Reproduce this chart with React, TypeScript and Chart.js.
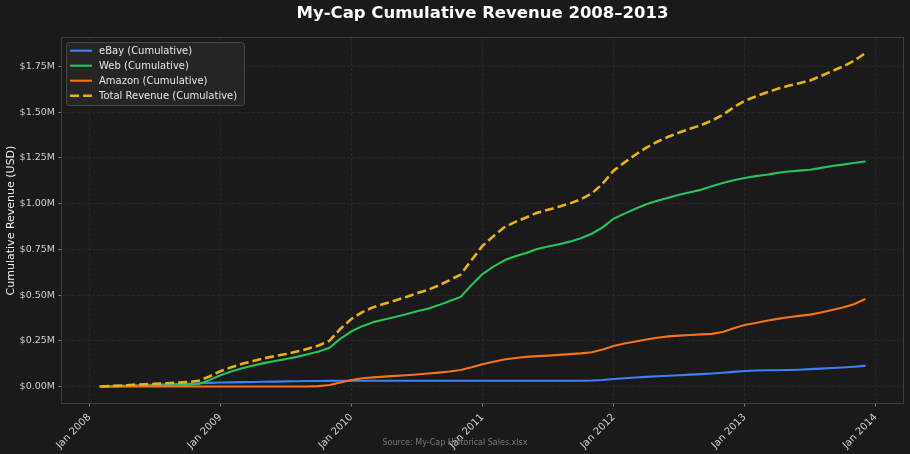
import React, { useEffect, useRef } from "react";
import { Chart, registerables } from "chart.js";

Chart.register(...registerables);

// Month labels (YYYY-MM), Feb 2008 .. Dec 2013
const MONTHS: string[] = [
  "2008-02","2008-03","2008-04","2008-05","2008-06","2008-07","2008-08","2008-09","2008-10","2008-11","2008-12",
  "2009-01","2009-02","2009-03","2009-04","2009-05","2009-06","2009-07","2009-08","2009-09","2009-10","2009-11","2009-12",
  "2010-01","2010-02","2010-03","2010-04","2010-05","2010-06","2010-07","2010-08","2010-09","2010-10","2010-11","2010-12",
  "2011-01","2011-02","2011-03","2011-04","2011-05","2011-06","2011-07","2011-08","2011-09","2011-10","2011-11","2011-12",
  "2012-01","2012-02","2012-03","2012-04","2012-05","2012-06","2012-07","2012-08","2012-09","2012-10","2012-11","2012-12",
  "2013-01","2013-02","2013-03","2013-04","2013-05","2013-06","2013-07","2013-08","2013-09","2013-10","2013-11","2013-12",
];

// Cumulative revenue in millions of USD
const EBAY: number[] = [
  0.000,0.002,0.004,0.006,0.008,0.010,0.012,0.014,0.015,0.018,0.020,
  0.022,0.023,0.024,0.025,0.026,0.027,0.028,0.029,0.030,0.030,0.031,0.032,
  0.032,0.032,0.032,0.032,0.032,0.032,0.032,0.032,0.032,0.032,0.032,0.032,
  0.032,0.032,0.032,0.032,0.032,0.032,0.032,0.032,0.032,0.032,0.033,0.036,
  0.041,0.045,0.049,0.053,0.056,0.059,0.062,0.065,0.068,0.071,0.075,0.080,
  0.085,0.088,0.089,0.089,0.090,0.092,0.095,0.098,0.101,0.104,0.108,0.113,
];

const WEB: number[] = [
  0.000,0.001,0.002,0.003,0.004,0.005,0.006,0.007,0.009,0.014,0.035,
  0.062,0.082,0.100,0.115,0.128,0.140,0.150,0.162,0.176,0.192,0.212,0.262,
  0.302,0.330,0.352,0.366,0.380,0.395,0.412,0.425,0.445,0.468,0.490,0.555,
  0.615,0.655,0.690,0.712,0.730,0.752,0.765,0.778,0.792,0.810,0.835,0.870,
  0.917,0.945,0.972,0.996,1.015,1.032,1.048,1.062,1.075,1.095,1.112,1.128,
  1.140,1.150,1.158,1.168,1.175,1.180,1.185,1.195,1.205,1.213,1.222,1.230,
];

const AMAZON: number[] = [
  0.000,0.000,0.000,0.000,0.000,0.000,0.000,0.000,0.000,0.000,0.000,
  0.000,0.000,0.000,0.000,0.000,0.000,0.000,0.000,0.000,0.002,0.008,0.022,
  0.036,0.045,0.050,0.054,0.058,0.062,0.066,0.071,0.076,0.082,0.090,0.105,
  0.122,0.135,0.148,0.156,0.162,0.166,0.169,0.173,0.177,0.181,0.187,0.203,
  0.222,0.235,0.246,0.257,0.267,0.274,0.278,0.282,0.285,0.288,0.298,0.318,
  0.336,0.347,0.360,0.370,0.379,0.386,0.393,0.405,0.418,0.432,0.450,0.477,
];

const TOTAL: number[] = [
  0.000,0.003,0.006,0.009,0.012,0.015,0.018,0.021,0.024,0.032,0.055,
  0.084,0.105,0.124,0.140,0.154,0.167,0.178,0.191,0.206,0.224,0.251,0.316,
  0.370,0.407,0.434,0.452,0.470,0.489,0.510,0.528,0.553,0.582,0.612,0.692,
  0.769,0.822,0.870,0.900,0.924,0.950,0.966,0.983,1.001,1.023,1.055,1.109,
  1.180,1.225,1.267,1.306,1.338,1.365,1.388,1.409,1.428,1.454,1.485,1.526,
  1.561,1.585,1.607,1.627,1.644,1.658,1.673,1.698,1.724,1.749,1.780,1.820,
];

const SERIES_NAMES = ["eBay (Cumulative)", "Web (Cumulative)", "Amazon (Cumulative)", "Total Revenue (Cumulative)"];
const SERIES_COLORS = ["#3b82f6", "#22c55e", "#f97316", "#eab308"];

const Y_TICKS: number[] = [0, 0.25, 0.5, 0.75, 1.0, 1.25, 1.5, 1.75];
const X_TICK_LABELS: string[] = ["Jan 2008", "Jan 2009", "Jan 2010", "Jan 2011", "Jan 2012", "Jan 2013", "Jan 2014"];

const TITLE = "My-Cap Cumulative Revenue 2008\u20132013";
const Y_TITLE = "Cumulative Revenue (USD)";
const SOURCE = "Source: My-Cap Historical Sales.xlsx";

const monthIndex = (s: string) => {
  const [y, m] = s.split("-").map(Number);
  return (y - 2008) * 12 + (m - 1);
};
const tickIndex = (label: string) => {
  const y = Number(label.split(" ")[1]);
  return (y - 2008) * 12;
};

const FONT = "'DejaVu Sans', sans-serif";
const BG = "#1a1a1a";

const decorPlugin = {
  id: "decor",
  beforeDraw(chart: any) {
    const { ctx, width, height } = chart;
    ctx.save();
    ctx.fillStyle = BG;
    ctx.fillRect(0, 0, width, height);
    ctx.restore();
  },
  afterDraw(chart: any) {
    const { ctx, chartArea } = chart;
    const { left, right, top, bottom } = chartArea;
    ctx.save();
    // frame
    ctx.strokeStyle = "#3f3f3f";
    ctx.lineWidth = 1;
    ctx.strokeRect(left - 0.5, top - 0.5, right - left + 1, bottom - top + 1);
    // title
    ctx.fillStyle = "#ffffff";
    ctx.font = `bold 16.5px ${FONT}`;
    ctx.textAlign = "center";
    ctx.textBaseline = "middle";
    ctx.fillText(TITLE, (left + right) / 2, 14);
    // source
    ctx.fillStyle = "#7a7a7a";
    ctx.font = `8px ${FONT}`;
    ctx.fillText(SOURCE, chart.width / 2, 443);
    // legend
    const lx = 66, ly = 42, lw = 178, lh = 63;
    ctx.beginPath();
    ctx.roundRect(lx + 0.5, ly + 0.5, lw, lh, 3);
    ctx.fillStyle = "rgba(38,38,38,0.92)";
    ctx.fill();
    ctx.strokeStyle = "#474747";
    ctx.lineWidth = 1;
    ctx.stroke();
    ctx.font = `10px ${FONT}`;
    ctx.textAlign = "left";
    ctx.textBaseline = "middle";
    chart.data.datasets.forEach((ds: any, i: number) => {
      const ry = 50.7 + i * 15;
      ctx.beginPath();
      ctx.strokeStyle = ds.borderColor;
      ctx.lineWidth = ds.borderWidth;
      ctx.setLineDash(ds.borderDash || []);
      ctx.moveTo(70, ry);
      ctx.lineTo(92, ry);
      ctx.stroke();
      ctx.setLineDash([]);
      ctx.fillStyle = "#e6e6e6";
      ctx.fillText(ds.label, 99, ry + 0.5);
    });
    ctx.restore();
  },
};

export default function App() {
  const ref = useRef<HTMLCanvasElement | null>(null);

  useEffect(() => {
    if (!ref.current) return;
    Chart.defaults.font.family = FONT;
    const mk = (vals: number[]) => MONTHS.map((m, i) => ({ x: monthIndex(m), y: vals[i] }));
    const all = [EBAY, WEB, AMAZON, TOTAL];
    const datasets = all.map((vals, i) => ({
      label: SERIES_NAMES[i],
      data: mk(vals),
      borderColor: SERIES_COLORS[i],
      backgroundColor: SERIES_COLORS[i],
      borderWidth: i === 3 ? 2.6 : 2.1,
      borderDash: i === 3 ? [9, 4] : [],
      pointRadius: 0,
      tension: 0,
      fill: false,
      order: 4 - i,
      borderCapStyle: i === 3 ? "butt" : "round",
      borderJoinStyle: "round",
    }));

    const chart = new Chart(ref.current, {
      type: "line",
      data: { datasets } as any,
      options: {
        animation: false,
        responsive: false,
        devicePixelRatio: 1,
        layout: { padding: { top: 38, right: 7, left: 0, bottom: 0 } },
        plugins: {
          legend: { display: false },
          tooltip: { enabled: false },
          title: { display: false },
        },
        scales: {
          x: {
            type: "linear",
            min: -2.5,
            max: 74.5,
            afterBuildTicks: (s: any) => {
              s.ticks = X_TICK_LABELS.map((l) => ({ value: tickIndex(l) }));
            },
            afterFit: (s: any) => {
              s.height = 51;
              s.paddingLeft = 0;
              s.paddingRight = 0;
            },
            ticks: {
              autoSkip: false,
              minRotation: 45,
              maxRotation: 45,
              color: "#d0d0d0",
              font: { size: 10 },
              padding: 5,
              callback: (v: any) => {
                const i = X_TICK_LABELS.findIndex((l) => tickIndex(l) === v);
                return i >= 0 ? X_TICK_LABELS[i] : "";
              },
            },
            grid: {
              color: "rgba(255,255,255,0.07)",
              lineWidth: 0.8,
              tickColor: "#9a9a9a",
              tickLength: 3.5,
              tickWidth: 0.8,
            },
            border: { display: false, dash: [3, 2] },
          },
          y: {
            type: "linear",
            min: -0.09,
            max: 1.905,
            afterBuildTicks: (s: any) => {
              s.ticks = Y_TICKS.map((v) => ({ value: v }));
            },
            afterFit: (s: any) => {
              s.width = 62;
              s.paddingTop = 0;
              s.paddingBottom = 0;
            },
            ticks: {
              color: "#d0d0d0",
              font: { size: 9.5 },
              padding: 3.5,
              callback: (v: any) => `$${Number(v).toFixed(2)}M`,
            },
            title: {
              display: true,
              text: Y_TITLE,
              color: "#f0f0f0",
              font: { size: 11 },
              padding: { top: 5, bottom: 0 },
            },
            grid: {
              color: "rgba(255,255,255,0.07)",
              lineWidth: 0.8,
              tickColor: "#9a9a9a",
              tickLength: 3.5,
              tickWidth: 0.8,
            },
            border: { display: false, dash: [3, 2] },
          },
        },
      },
      plugins: [decorPlugin],
    } as any);
    return () => chart.destroy();
  }, []);

  return (
    <div style={{ position: "fixed", left: 0, top: 0, width: 910, height: 454, background: BG }}>
      <canvas ref={ref} width={910} height={454} style={{ width: 910, height: 454, display: "block" }} />
    </div>
  );
}
